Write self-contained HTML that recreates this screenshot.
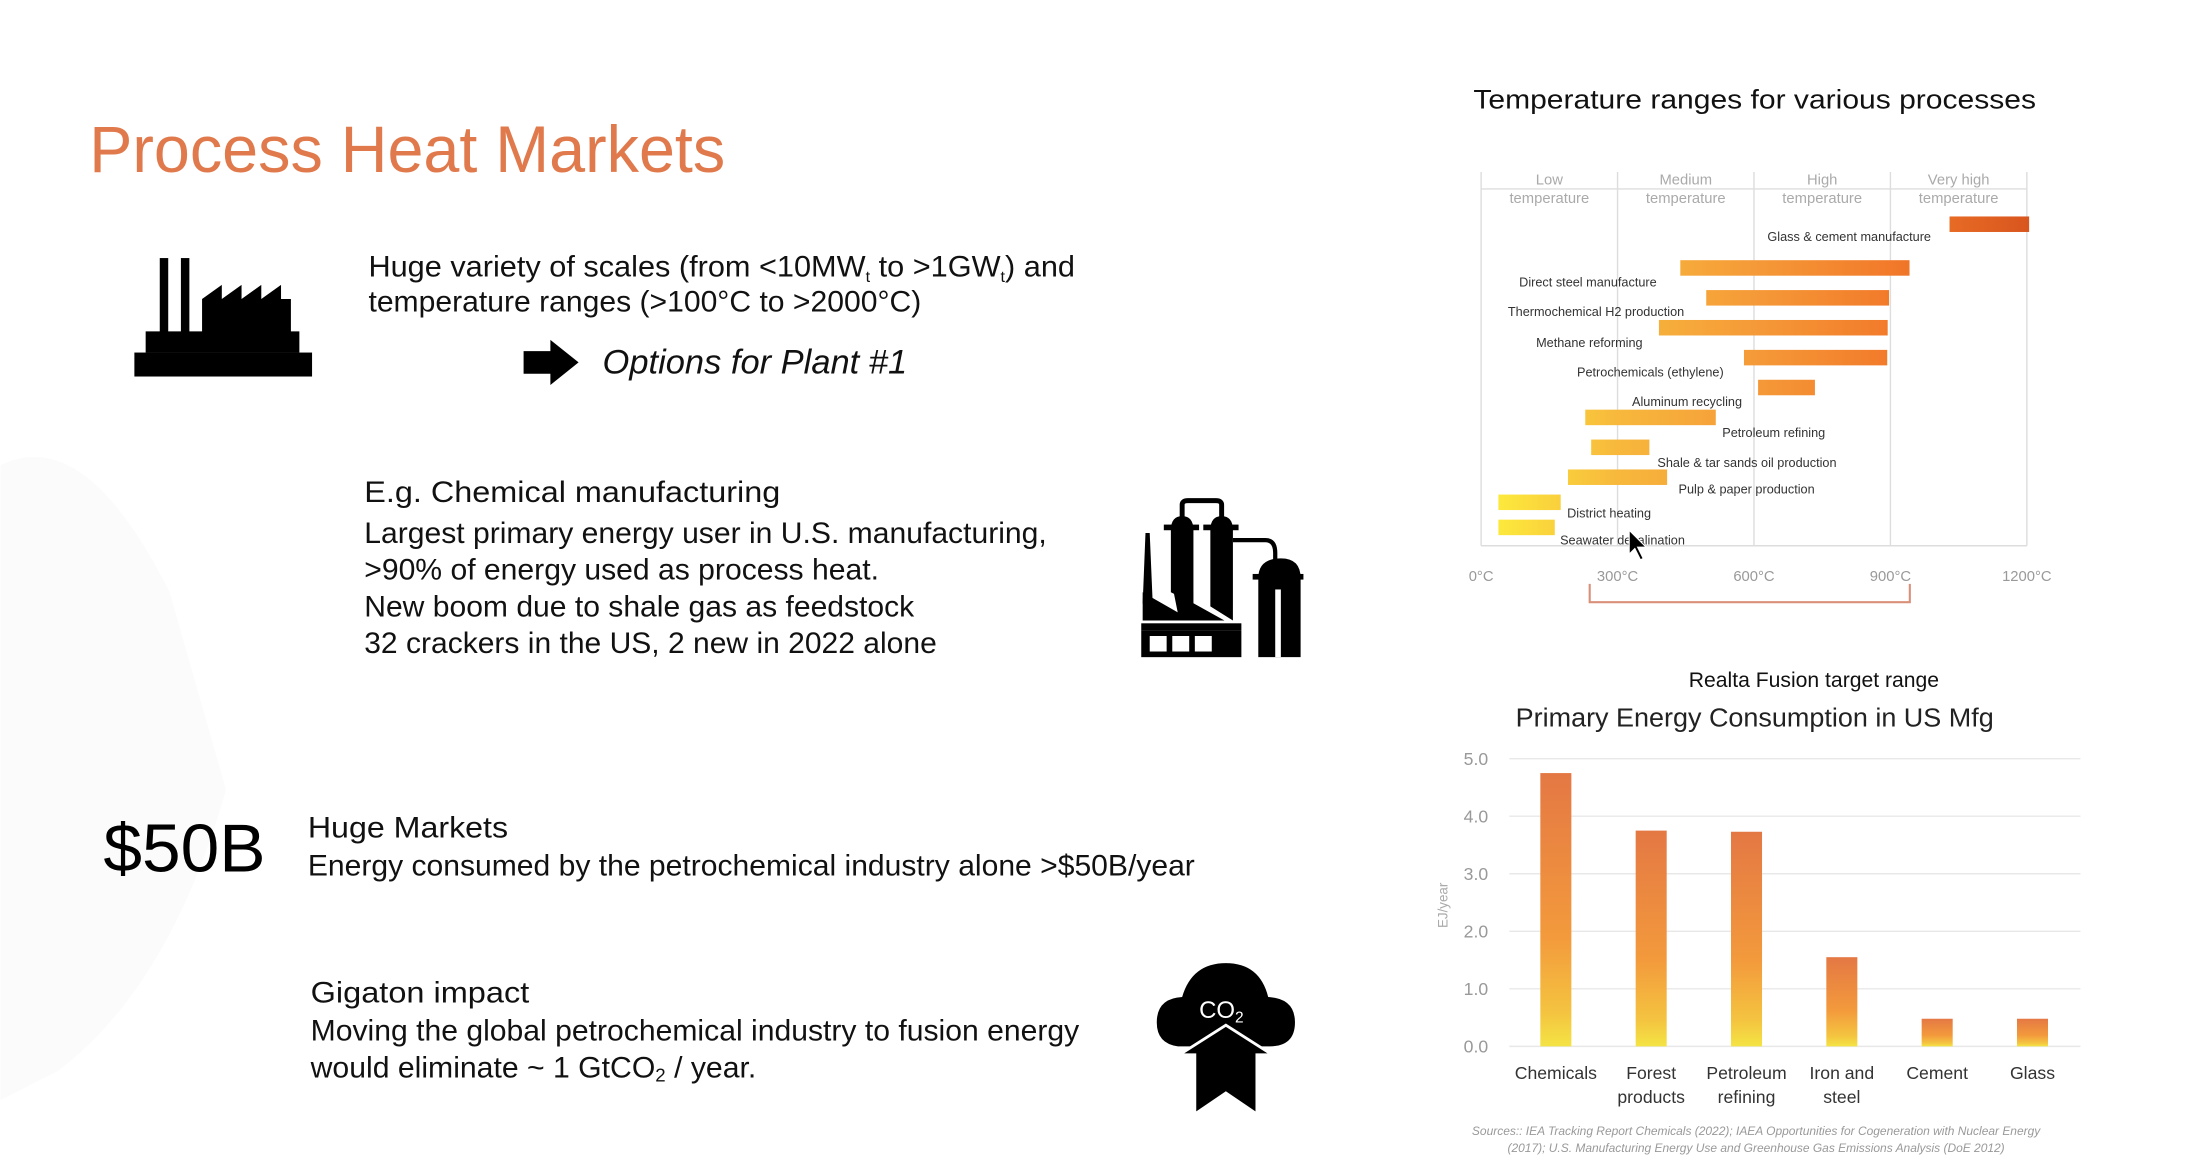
<!DOCTYPE html>
<html><head><meta charset="utf-8"><style>
html,body{margin:0;padding:0;background:#fff;}
svg{display:block;}
text{font-family:"Liberation Sans",Arial,sans-serif;}
</style></head><body>
<svg id="root" width="2212" height="1162" viewBox="0 0 1568 824" xmlns="http://www.w3.org/2000/svg">
<defs>
<linearGradient id="tempGrad" gradientUnits="userSpaceOnUse" x1="1050" y1="0" x2="1437" y2="0">
<stop offset="0" stop-color="#fdf03c"/><stop offset="0.25" stop-color="#f7b83c"/><stop offset="0.5" stop-color="#f59a38"/><stop offset="0.75" stop-color="#f27a2a"/><stop offset="1" stop-color="#d9561e"/>
</linearGradient>
<linearGradient id="barGrad" x1="0" y1="1" x2="0" y2="0">
<stop offset="0" stop-color="#f4e444"/><stop offset="0.12" stop-color="#f4c440"/><stop offset="0.4" stop-color="#f39a3c"/><stop offset="1" stop-color="#e47844"/>
</linearGradient>
</defs>
<rect width="1568" height="824" fill="#fff"/>
<path d="M0 330 Q60 300 120 420 L160 560 Q120 700 40 760 L0 780 Z" fill="#fbfbfb"/>

<text x="63" y="122" font-size="47" fill="#e07a4c" textLength="451" lengthAdjust="spacingAndGlyphs">Process Heat Markets</text>

<g fill="#000">
<rect x="113" y="183" width="6" height="60"/><rect x="128" y="183" width="6" height="60"/>
<path d="M103 250 L103 235 L143 235 L143 212 L157 202 L157 212 L171 202 L171 212 L185 202 L185 212 L199 202 L199 212 L206 212 L206 235 L212 235 L212 250 Z"/>
<rect x="95" y="250" width="126" height="17"/>
</g>
<text x="261" y="196" font-size="21" fill="#111" textLength="501" lengthAdjust="spacingAndGlyphs">Huge variety of scales (from &lt;10MW<tspan font-size="11" dy="4">t</tspan><tspan dy="-4"> to &gt;1GW</tspan><tspan font-size="11" dy="4">t</tspan><tspan dy="-4">) and</tspan></text>
<text x="261" y="221" font-size="21" fill="#111" textLength="392" lengthAdjust="spacingAndGlyphs">temperature ranges (&gt;100°C to &gt;2000°C)</text>
<path d="M371 249 L390 249 L390 241 L410 257 L390 273 L390 265 L371 265 Z" fill="#000"/>
<text x="427" y="265" font-size="24" font-style="italic" fill="#111" textLength="216" lengthAdjust="spacingAndGlyphs">Options for Plant #1</text>

<text x="258" y="356" font-size="21" fill="#111" textLength="295" lengthAdjust="spacingAndGlyphs">E.g. Chemical manufacturing</text>
<text x="258" y="385" font-size="21" fill="#111" textLength="484" lengthAdjust="spacingAndGlyphs">Largest primary energy user in U.S. manufacturing,</text>
<text x="258" y="411" font-size="21" fill="#111" textLength="365" lengthAdjust="spacingAndGlyphs">&gt;90% of energy used as process heat.</text>
<text x="258" y="437" font-size="21" fill="#111" textLength="390" lengthAdjust="spacingAndGlyphs">New boom due to shale gas as feedstock</text>
<text x="258" y="463" font-size="21" fill="#111" textLength="406" lengthAdjust="spacingAndGlyphs">32 crackers in the US, 2 new in 2022 alone</text>

<g fill="#000">
<path d="M810 428 L812 378 L815 378 L817 425 Z"/>
<path d="M810 420 L845 440 L810 440 Z M832 420 L868 440 L836 440 Z"/>
<rect x="809" y="442" width="71" height="5"/>
<rect x="809" y="447" width="71" height="19"/>
<rect x="815" y="451" width="12" height="11" fill="#fff"/><rect x="831" y="451" width="12" height="11" fill="#fff"/><rect x="847" y="451" width="12" height="11" fill="#fff"/>
<rect x="825" y="372" width="25" height="4"/><rect x="853" y="372" width="25" height="4"/>
<path d="M830 420 L830 376 Q830 366 838 366 Q846 366 846 376 L846 428 Z"/>
<path d="M858 430 L858 376 Q858 366 866 366 Q874 366 874 376 L874 440 Z"/>
<path d="M838 368 L838 358 Q838 355 842 355 L862 355 Q866 355 866 358 L866 368" fill="none" stroke="#000" stroke-width="3.5"/>
<path d="M874 383 L897 383 Q904 383 904 392 L904 398" fill="none" stroke="#000" stroke-width="3"/>
<rect x="888" y="407" width="36" height="4"/>
<path d="M892 466 L892 410 Q892 396 908 396 Q922 396 922 410 L922 466 Z"/>
<rect x="904" y="418" width="4" height="48" fill="#fff"/>
</g>

<text x="73" y="618" font-size="48" fill="#000" textLength="115" lengthAdjust="spacingAndGlyphs">$50B</text>
<text x="218" y="594" font-size="21" fill="#111" textLength="142" lengthAdjust="spacingAndGlyphs">Huge Markets</text>
<text x="218" y="621" font-size="21" fill="#111" textLength="629" lengthAdjust="spacingAndGlyphs">Energy consumed by the petrochemical industry alone &gt;$50B/year</text>

<text x="220" y="711" font-size="21" fill="#111" textLength="155" lengthAdjust="spacingAndGlyphs">Gigaton impact</text>
<text x="220" y="738" font-size="21" fill="#111" textLength="545" lengthAdjust="spacingAndGlyphs">Moving the global petrochemical industry to fusion energy</text>
<text x="220" y="764" font-size="21" fill="#111" textLength="316" lengthAdjust="spacingAndGlyphs">would eliminate ~ 1 GtCO<tspan font-size="13" dy="3">2</tspan><tspan dy="-3"> / year.</tspan></text>

<g>
<path d="M835 742 Q820 740 820 725 Q820 708 838 707 Q845 683 869 683 Q893 683 899 707 Q918 708 918 725 Q918 742 900 742 Z" fill="#000"/>
<path d="M847 790 L847 748 L836 748 L869 727 L902 748 L891 748 L891 790 L869 775 Z" fill="#000" stroke="#fff" stroke-width="2"/>
<text x="850" y="722" font-size="17" fill="#fff">CO<tspan font-size="11" dy="3">2</tspan></text>
</g>

<text x="1244" y="77" font-size="19" fill="#111" text-anchor="middle" textLength="399" lengthAdjust="spacingAndGlyphs">Temperature ranges for various processes</text>
<g id="tempChart"></g>

<text x="1286" y="487" font-size="15" fill="#111" text-anchor="middle">Realta Fusion target range</text>
<text x="1244" y="515" font-size="18.5" fill="#222" text-anchor="middle" textLength="339" lengthAdjust="spacingAndGlyphs">Primary Energy Consumption in US Mfg</text>
<g id="barChart"></g>
<text x="1245" y="805" font-size="8.5" font-style="italic" fill="#999" text-anchor="middle">Sources:: IEA Tracking Report Chemicals (2022); IAEA Opportunities for Cogeneration with Nuclear Energy</text>
<text x="1245" y="817" font-size="8.5" font-style="italic" fill="#999" text-anchor="middle">(2017); U.S. Manufacturing Energy Use and Greenhouse Gas Emissions Analysis (DoE 2012)</text>
<path d="M1155 376 L1155 393 L1159 389 L1163 397 L1165 396 L1161 388 L1167 388 Z" fill="#000" stroke="#fff" stroke-width="0.8"/>
</svg>
<script>
const NS = "http://www.w3.org/2000/svg";
// Temperature chart data
const processNames = ["Glass & cement manufacture","Direct steel manufacture","Thermochemical H2 production","Methane reforming","Petrochemicals (ethylene)","Aluminum recycling","Petroleum refining","Shale & tar sands oil production","Pulp & paper production","District heating","Seawater desalination"];
const processMin = [1030, 438, 495, 391, 578, 609, 229, 242, 191, 38, 38];
const processMax = [1205, 942, 897, 894, 893, 734, 516, 370, 409, 175, 162];
const tempTicks = [0, 300, 600, 900, 1200];
const tempTickLabels = ["0°C","300°C","600°C","900°C","1200°C"];
const zoneLabels = [["Low","temperature"],["Medium","temperature"],["High","temperature"],["Very high","temperature"]];
// Bar chart data
const categories = [["Chemicals"],["Forest","products"],["Petroleum","refining"],["Iron and","steel"],["Cement"],["Glass"]];
const energyValues = [4.75, 3.75, 3.73, 1.55, 0.48, 0.48];
const yTicks = [0, 1, 2, 3, 4, 5];
const yTickLabels = ["0.0","1.0","2.0","3.0","4.0","5.0"];

function mk(tag, attrs, parent, txt){
  const e = document.createElementNS(NS, tag);
  for (const k in attrs) e.setAttribute(k, attrs[k]);
  if (txt !== undefined) e.textContent = txt;
  parent.appendChild(e);
  return e;
}
// temperature chart
const tc = document.getElementById('tempChart');
const tx = t => 1050 + (t / 1200) * 387;
const rowY = i => i === 0 ? 159 : (i <= 8 ? 190 + (i - 1) * 21.2 : 338.4 + (i - 8) * 17.8);
tempTicks.forEach((t, i) => {
  const l = mk('line', {x1: tx(t), x2: tx(t), y1: 122, y2: 387, stroke: '#ddd', 'stroke-width': 1}, tc);
  
  
  const lab = mk('text', {x: tx(t), y: 412, 'font-size': 10.5, fill: '#999', 'text-anchor': 'middle'}, tc, tempTickLabels[i]);
  
  
});
const hl = mk('line', {x1: 1050, x2: 1437, y1: 134, y2: 134, stroke: '#ddd'}, tc);


const bl = mk('line', {x1: 1050, x2: 1437, y1: 387, y2: 387, stroke: '#ddd'}, tc);


zoneLabels.forEach((z, i) => {
  const cx = (tx(tempTicks[i]) + tx(tempTicks[i + 1])) / 2;
  const t = mk('text', {x: cx, y: 131, 'font-size': 10.5, fill: '#aaa', 'text-anchor': 'middle'}, tc);
  
  
  mk('tspan', {x: cx, dy: 0}, t, z[0]);
  mk('tspan', {x: cx, dy: 13}, t, z[1]);
});
const labelPos = [[1253,171],[1077,203],[1069,224],[1089,246],[1118,267],[1157,288],[1221,310],[1175,331],[1190,350],[1111,367],[1106,386]];
processNames.forEach((n, i) => {
  const y = rowY(i);
  const r = mk('rect', {x: tx(processMin[i]), y: y - 5.5, width: tx(processMax[i]) - tx(processMin[i]), height: 11, fill: 'url(#tempGrad)'}, tc);
  
  
  const t = mk('text', {x: labelPos[i][0], y: labelPos[i][1], 'font-size': 9, fill: '#333'}, tc, n);
  
  
});
const br = mk('path', {d: 'M1127 414 L1127 427 L1354 427 L1354 414', fill: 'none', stroke: '#d9907a', 'stroke-width': 1.5}, tc);



// bar chart
const bc = document.getElementById('barChart');
const y0 = 742, yTop = 538;
const vy = v => y0 - (v / 5) * (y0 - yTop);
const bx = i => 1103 + i * 67.6;
yTicks.forEach((t, i) => {
  const g = mk('line', {x1: 1070, x2: 1475, y1: vy(t), y2: vy(t), stroke: '#e8e8e8', 'stroke-width': 1}, bc);
  
  
  const l = mk('text', {x: 1055, y: vy(t) + 4.5, 'font-size': 12.5, fill: '#999', 'text-anchor': 'end'}, bc, yTickLabels[i]);
  
  
});
const yt = mk('text', {x: 1026, y: 642, 'font-size': 9.5, fill: '#aaa', 'text-anchor': 'middle', transform: 'rotate(-90 1026 642)'}, bc, 'EJ/year');


energyValues.forEach((v, i) => {
  const r = mk('rect', {x: bx(i) - 11, y: vy(v), width: 22, height: y0 - vy(v), fill: 'url(#barGrad)'}, bc);
  
  
  const t = mk('text', {x: bx(i), y: 765, 'font-size': 12.5, fill: '#333', 'text-anchor': 'middle'}, bc);
  
  
  categories[i].forEach((s, j) => mk('tspan', {x: bx(i), dy: j ? 17 : 0}, t, s));
});
</script>
</body></html>
